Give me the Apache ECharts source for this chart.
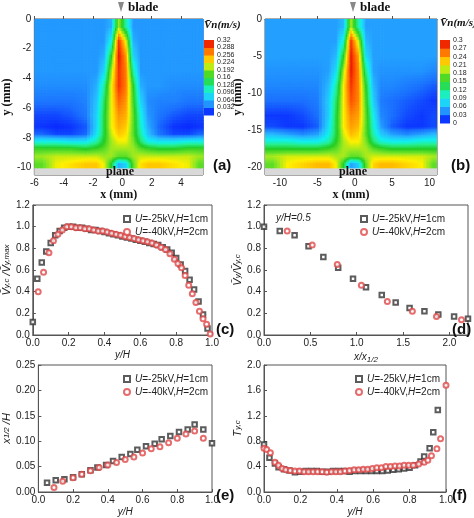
<!DOCTYPE html>
<html><head><meta charset="utf-8">
<script src="https://cdn.jsdelivr.net/npm/echarts@6/dist/echarts.min.js"></script>
<style>html,body{margin:0;background:#fff}#c{width:474px;height:518px}</style>
</head><body><div id="c"></div>
<script>
// contour fields, coarse cells
const aXEdges = [-6,-5,-4,-3,-2,-1.5,-1,-0.5,0,0.5,1,1.5,2,3,4,5,5.5]
const aYEdges = [0,-1,-2,-3,-4,-5,-6,-7,-7.5,-8,-8.5,-9,-9.5,-10]
const bXEdges = [-12,-10,-8,-6,-4,-3,-2,-1,0,1,2,3,4,6,8,10,11]
const bYEdges = [0,-2,-4,-6,-8,-10,-12,-14,-15,-16,-17,-18,-19,-20]
const aField = [
  [.05,.05,.05,.05,.05,.05,.06,.20,.12,.05,.05,.05,.05,.05,.05,.05],
  [.05,.05,.05,.05,.05,.05,.10,.30,.22,.06,.05,.05,.05,.05,.05,.05],
  [.05,.05,.05,.05,.05,.06,.16,.31,.26,.08,.05,.05,.05,.05,.05,.05],
  [.05,.05,.05,.05,.05,.08,.20,.30,.27,.12,.05,.05,.05,.05,.05,.05],
  [.045,.045,.045,.045,.06,.12,.22,.30,.27,.16,.06,.05,.05,.045,.045,.045],
  [.035,.035,.035,.04,.07,.14,.22,.28,.26,.17,.08,.045,.04,.04,.035,.035],
  [.02,.02,.025,.035,.08,.15,.22,.26,.25,.18,.10,.05,.035,.025,.02,.02],
  [.015,.012,.015,.025,.08,.15,.22,.25,.24,.18,.11,.06,.03,.015,.012,.015],
  [.03,.02,.02,.03,.09,.15,.21,.24,.23,.18,.12,.07,.035,.02,.02,.03],
  [.10,.10,.09,.09,.12,.16,.20,.22,.22,.19,.14,.10,.09,.09,.10,.10],
  [.17,.17,.17,.16,.17,.18,.20,.20,.20,.20,.18,.17,.16,.16,.17,.17],
  [.20,.21,.21,.21,.21,.20,.20,.18,.18,.20,.21,.21,.21,.21,.21,.20],
  [.18,.22,.23,.24,.24,.22,.16,.06,.08,.18,.23,.24,.24,.23,.22,.18]
]
const bField = [
  [.05,.05,.05,.05,.05,.05,.06,.19,.11,.05,.05,.05,.05,.05,.05,.05],
  [.05,.05,.05,.05,.05,.05,.10,.28,.20,.06,.05,.05,.05,.05,.05,.05],
  [.05,.05,.05,.05,.05,.06,.15,.29,.24,.08,.05,.05,.05,.05,.05,.05],
  [.045,.045,.045,.045,.05,.08,.19,.29,.25,.12,.05,.045,.045,.045,.045,.04],
  [.04,.04,.04,.04,.06,.11,.21,.28,.25,.15,.06,.04,.04,.035,.03,.025],
  [.03,.03,.03,.035,.07,.13,.21,.27,.25,.16,.07,.035,.03,.025,.02,.015],
  [.015,.015,.02,.03,.07,.14,.21,.25,.24,.17,.09,.04,.03,.02,.015,.02],
  [.02,.015,.015,.025,.08,.14,.21,.24,.23,.17,.10,.05,.025,.015,.015,.02],
  [.06,.05,.04,.05,.09,.14,.20,.23,.22,.17,.11,.07,.05,.04,.05,.06],
  [.10,.10,.09,.09,.11,.15,.19,.21,.21,.18,.13,.10,.09,.09,.10,.10],
  [.15,.15,.15,.15,.16,.17,.19,.19,.19,.19,.17,.16,.15,.15,.15,.15],
  [.19,.20,.20,.20,.20,.19,.19,.17,.17,.19,.20,.20,.20,.20,.20,.19],
  [.17,.21,.22,.23,.23,.21,.15,.05,.07,.17,.22,.23,.23,.22,.21,.17]
]
const aLevels = [0,0.032,0.064,0.096,0.128,0.16,0.192,0.224,0.256,0.288,0.32]
const bLevels = [0,0.03,0.06,0.09,0.12,0.15,0.18,0.21,0.24,0.27,0.3]
const bandColors = ['#0000ff','#1a70ff','#28b8ff','#10f0f0','#28ee8c','#22cc22','#7ee628','#fff000','#ffa000','#ff5000','#e00000']

// (c) centreline velocity
const c25 = [[0,.12],[.025,.52],[.05,.67],[.075,.77],[.1,.85],[.125,.92],[.15,.96],[.175,.99],[.2,1],[.225,1],[.25,.99],[.275,.99],[.3,.98],[.325,.97],[.35,.97],[.375,.96],[.4,.95],[.425,.94],[.45,.93],[.475,.92],[.5,.91],[.525,.9],[.55,.89],[.575,.88],[.6,.87],[.625,.86],[.65,.85],[.675,.84],[.7,.83],[.725,.81],[.75,.79],[.775,.76],[.8,.71],[.825,.65],[.85,.59],[.875,.51],[.9,.42],[.925,.31],[.95,.19],[.975,.06]]
const c40 = [[.03,.40],[.06,.58],[.09,.76],[.115,.87],[.14,.93],[.165,.97],[.19,1],[.215,1],[.24,.99],[.265,.99],[.29,.98],[.315,.98],[.34,.97],[.365,.96],[.39,.96],[.415,.95],[.44,.94],[.465,.93],[.49,.92],[.515,.91],[.54,.9],[.565,.89],[.59,.88],[.615,.87],[.64,.86],[.665,.85],[.69,.83],[.715,.81],[.74,.79],[.765,.75],[.79,.7],[.81,.66],[.83,.62],[.85,.55],[.87,.46],[.89,.38],[.91,.3],[.93,.22],[.95,.15],[.97,.1],[.99,.01]]
// (d) transverse profile
const d25 = [[0,1],[.17,.96],[.33,.92],[.48,.82],[.64,.72],[.8,.62],[.96,.52],[1.1,.44],[1.27,.37],[1.42,.3],[1.57,.25],[1.73,.22],[1.88,.19],[2.05,.17],[2.2,.15]]
const d40 = [[.25,.96],[.52,.83],[.79,.65],[1.05,.46],[1.33,.31],[1.6,.22],[1.86,.17],[2.13,.14]]
// (e) half width
const e25 = [[.05,.018],[.1,.023],[.15,.025],[.2,.029],[.25,.035],[.3,.043],[.34,.048],[.39,.053],[.43,.061],[.48,.069],[.53,.075],[.57,.083],[.62,.09],[.67,.095],[.71,.104],[.76,.11],[.81,.118],[.86,.123],[.9,.133],[.95,.123],[1,.096]]
const e40 = [[.09,.009],[.14,.021],[.2,.028],[.25,.035],[.3,.042],[.35,.048],[.4,.053],[.45,.058],[.5,.064],[.55,.069],[.6,.077],[.65,.085],[.7,.089],[.75,.097],[.8,.106],[.85,.114],[.9,.12],[.95,.106]]
// (f) turbulence
const f25 = [[0,.75],[.03,.54],[.06,.45],[.08,.39],[.11,.36],[.14,.34],[.17,.31],[.2,.32],[.23,.33],[.26,.33],[.29,.33],[.32,.32],[.35,.32],[.38,.33],[.41,.33],[.44,.33],[.47,.32],[.5,.33],[.53,.33],[.56,.33],[.59,.33],[.62,.33],[.65,.33],[.68,.34],[.71,.35],[.74,.36],[.77,.37],[.8,.38],[.83,.42],[.86,.48],[.88,.56],[.91,.69],[.93,.94],[.955,1.29]]
const f40 = [[0,.69],[.015,.67],[.035,.62],[.06,.47],[.08,.42],[.1,.37],[.12,.35],[.145,.34],[.17,.33],[.195,.33],[.22,.32],[.245,.32],[.27,.32],[.295,.32],[.32,.32],[.345,.31],[.37,.32],[.395,.32],[.42,.32],[.445,.33],[.47,.34],[.495,.35],[.52,.35],[.545,.36],[.57,.36],[.595,.37],[.62,.38],[.645,.38],[.67,.4],[.695,.4],[.72,.41],[.745,.41],[.77,.42],[.795,.42],[.82,.42],[.85,.44],[.88,.47],[.9,.5],[.92,.57],[.95,.68],[.97,.84],[1,1.68]]

const name25 = 'U=-25kV,H=1cm'
const name40 = 'U=-40kV,H=2cm'

function cells(xe, ye, field) {
  const out = []
  field.forEach((row, j) => row.forEach((v, i) => out.push([xe[i], xe[i + 1], ye[j], ye[j + 1], v, i, j])))
  return out
}
function bands(levels) {
  const out = []
  for (let i = 0; i < levels.length - 1; i++) out.push([0, 1, levels[i], levels[i + 1], (levels[i] + levels[i + 1]) / 2])
  return out
}
const colorOf = (v, vmax) => echarts.color.lerp(Math.max(0, Math.min(1, v / vmax)), bandColors)

// bilinear sample between cell centres
function sampler(xe, ye, F) {
  const cx = xe.slice(0, -1).map((x, i) => (x + xe[i + 1]) / 2)
  const cy = ye.slice(0, -1).map((y, j) => (y + ye[j + 1]) / 2)
  const find = (arr, v, desc) => {
    const n = arr.length
    for (let k = 0; k < n - 1; k++) {
      const a = arr[k], b = arr[k + 1]
      if (desc ? (v <= a && v >= b) : (v >= a && v <= b)) return [k, (v - a) / (b - a)]
    }
    return (desc ? v > arr[0] : v < arr[0]) ? [0, 0] : [n - 2, 1]
  }
  return (x, y) => {
    const [i, tx] = find(cx, x, false)
    const [j, ty] = find(cy, y, true)
    const v00 = F[j][i], v01 = F[j][i + 1], v10 = F[j + 1][i], v11 = F[j + 1][i + 1]
    return (v00 * (1 - tx) + v01 * tx) * (1 - ty) + (v10 * (1 - tx) + v11 * tx) * ty
  }
}
function fieldItem(xe, ye, F, vmax) {
  const s = sampler(xe, ye, F)
  const N = 5
  return (params, api) => {
    const x0 = api.value(0), x1 = api.value(1), y0 = api.value(2), y1 = api.value(3)
    const children = []
    for (let a = 0; a < N; a++) for (let b = 0; b < N; b++) {
      const xa = x0 + (x1 - x0) * a / N, xb = x0 + (x1 - x0) * (a + 1) / N
      const ya = y0 + (y1 - y0) * b / N, yb = y0 + (y1 - y0) * (b + 1) / N
      const p0 = api.coord([xa, ya]), p1 = api.coord([xb, yb])
      children.push({ type: 'rect', shape: { x: Math.min(p0[0], p1[0]), y: Math.min(p0[1], p1[1]), width: Math.abs(p1[0] - p0[0]) + 0.7, height: Math.abs(p1[1] - p0[1]) + 0.7 },
        style: { fill: colorOf(s((xa + xb) / 2, (ya + yb) / 2), vmax) } })
    }
    return { type: 'group', children }
  }
}
const bandItem = vmax => (params, api) => {
  const p0 = api.coord([api.value(0), api.value(2)])
  const p1 = api.coord([api.value(1), api.value(3)])
  return { type: 'rect', shape: { x: p0[0], y: p1[1], width: p1[0] - p0[0], height: p0[1] - p1[1] + 0.5 },
    style: { fill: colorOf(api.value(4), vmax) } }
}

const txt = { color: '#222', fontSize: 10, fontFamily: 'Liberation Sans' }
const serifB = { fontFamily: 'Liberation Serif', fontWeight: 'bold', fontSize: 12, color: '#111' }
const box = { show: true, borderColor: '#555', borderWidth: 1 }

const grids = [
  { left: 31, top: 19, width: 172, height: 156, ...box },
  { left: 265, top: 19, width: 172, height: 156, ...box },
  { left: 204, top: 40, width: 10, height: 75 },
  { left: 440, top: 40, width: 10, height: 83 },
  { left: 27, top: 205, width: 185, height: 130, ...box },
  { left: 264, top: 205, width: 204, height: 130, ...box },
  { left: 27, top: 365, width: 185, height: 133, ...box },
  { left: 264, top: 365, width: 182, height: 133, ...box }
]

function valAxis(gi, o) {
  return Object.assign({
    type: 'value', gridIndex: gi, splitLine: { show: false },
    axisLine: { show: true, lineStyle: { color: '#555' } },
    axisTick: { show: true, inside: true, length: 3, lineStyle: { color: '#555' } },
    axisLabel: { ...txt, margin: 3 },
    nameTextStyle: { ...txt }
  }, o)
}
const hidden = (gi, o) => Object.assign({ type: 'value', gridIndex: gi, show: false }, o)
const fix1 = v => v.toFixed(1)

const xAxes = [
  valAxis(0, { min: -6, max: 5.5, interval: 2, name: 'x (mm)', nameLocation: 'middle', nameGap: 13, nameTextStyle: serifB, axisLabel: { ...txt, margin: 3, showMaxLabel: false } }),
  valAxis(1, { min: -12, max: 11, axisTick: { show: true, inside: true, length: 3, customValues: [-10, -5, 0, 5, 10] }, axisLabel: { ...txt, margin: 3, customValues: [-10, -5, 0, 5, 10] }, name: 'x (mm)', nameLocation: 'middle', nameGap: 13, nameTextStyle: serifB }),
  hidden(2, { min: 0, max: 1 }),
  hidden(3, { min: 0, max: 1 }),
  valAxis(4, { min: 0, max: 1, interval: 0.2, name: 'y/H', nameLocation: 'middle', nameGap: 15, nameTextStyle: { ...txt, fontStyle: 'italic' }, axisLabel: { ...txt, margin: 3, formatter: fix1 } }),
  valAxis(5, { min: 0, max: 2.2, interval: 0.5, name: '{i|x/x}{s|1/2}', nameLocation: 'middle', nameGap: 15, nameTextStyle: { ...txt, rich: { i: { ...txt, fontStyle: 'italic' }, s: { ...txt, fontSize: 8, fontStyle: 'italic', padding: [6, 0, 0, 0] } } }, axisLabel: { ...txt, margin: 3, formatter: fix1, showMaxLabel: false } }),
  valAxis(6, { min: 0, max: 1, interval: 0.2, name: 'y/H', nameLocation: 'middle', nameGap: 15, nameTextStyle: { ...txt, fontStyle: 'italic' }, axisLabel: { ...txt, margin: 3, formatter: fix1 } }),
  valAxis(7, { min: 0, max: 1, interval: 0.2, name: 'y/H', nameLocation: 'middle', nameGap: 15, nameTextStyle: { ...txt, fontStyle: 'italic' }, axisLabel: { ...txt, margin: 3, formatter: fix1 } })
]
const richY = { i: { ...txt, fontSize: 11, fontStyle: 'italic' }, s: { ...txt, fontSize: 8, fontStyle: 'italic', padding: [0, 0, 0, 0] } }
const yAxes = [
  valAxis(0, { min: -10.5, max: 0, axisTick: { show: true, inside: true, length: 3, customValues: [0, -2, -4, -6, -8, -10] }, axisLabel: { ...txt, margin: 3, customValues: [0, -2, -4, -6, -8, -10] }, name: 'y (mm)', nameLocation: 'middle', nameGap: 17, nameTextStyle: serifB }),
  valAxis(1, { min: -21, max: 0, axisTick: { show: true, inside: true, length: 3, customValues: [0, -5, -10, -15, -20] }, axisLabel: { ...txt, margin: 3, customValues: [0, -5, -10, -15, -20] }, name: 'y (mm)', nameLocation: 'middle', nameGap: 17, nameTextStyle: serifB }),
  valAxis(2, { min: 0, max: 0.32, position: 'right', axisLine: { show: false }, axisTick: { show: false }, axisLabel: { ...txt, fontSize: 7, margin: 3, showMaxLabel: true, customValues: aLevels, formatter: v => String(+v.toFixed(3)) } }),
  valAxis(3, { min: 0, max: 0.3, position: 'right', axisLine: { show: false }, axisTick: { show: false }, axisLabel: { ...txt, fontSize: 7, margin: 3, showMaxLabel: true, customValues: bLevels, formatter: v => String(+v.toFixed(2)) } }),
  valAxis(4, { min: 0, max: 1.2, interval: 0.2, name: '{i|V̄}{s|y,c}{i| /V̄}{s|y,max}', nameLocation: 'middle', nameGap: 18, nameTextStyle: { rich: richY }, axisLabel: { ...txt, margin: 3, formatter: fix1 } }),
  valAxis(5, { min: 0, max: 1.2, interval: 0.2, name: '{i|V̄}{s|y}{i|/V̄}{s|y,c}', nameLocation: 'middle', nameGap: 18, nameTextStyle: { rich: richY }, axisLabel: { ...txt, margin: 3, formatter: fix1 } }),
  valAxis(6, { min: 0, max: 0.25, interval: 0.05, name: '{i|x}{s|1/2}{i| /H}', nameLocation: 'middle', nameGap: 24, nameTextStyle: { rich: richY }, axisLabel: { ...txt, margin: 3, formatter: v => v.toFixed(2) } }),
  valAxis(7, { min: 0, max: 2, interval: 0.4, name: '{i|T}{s|y,c}', nameLocation: 'middle', nameGap: 18, nameTextStyle: { rich: richY }, axisLabel: { ...txt, margin: 3, formatter: fix1 } })
]

const sq = (gi, data) => ({ name: name25, type: 'scatter', xAxisIndex: gi, yAxisIndex: gi, data, symbol: 'emptyRect', symbolSize: 4.5, itemStyle: { color: '#333', borderWidth: 1 } })
const ci = (gi, data) => ({ name: name40, type: 'scatter', xAxisIndex: gi, yAxisIndex: gi, data, symbol: 'emptyCircle', symbolSize: 5, itemStyle: { color: '#e04848', borderWidth: 1 } })

const series = [
  { type: 'custom', xAxisIndex: 0, yAxisIndex: 0, renderItem: fieldItem(aXEdges, aYEdges, aField, 0.32), data: cells(aXEdges, aYEdges, aField), encode: { x: [0, 1], y: [2, 3] }, clip: true,
    markArea: { silent: true, itemStyle: { color: '#d9d9d9' }, data: [[{ yAxis: -10.5 }, { yAxis: -10 }]] } },
  { type: 'custom', xAxisIndex: 1, yAxisIndex: 1, renderItem: fieldItem(bXEdges, bYEdges, bField, 0.3), data: cells(bXEdges, bYEdges, bField), encode: { x: [0, 1], y: [2, 3] }, clip: true,
    markArea: { silent: true, itemStyle: { color: '#d9d9d9' }, data: [[{ yAxis: -21 }, { yAxis: -20 }]] } },
  { type: 'custom', xAxisIndex: 2, yAxisIndex: 2, renderItem: bandItem(0.32), data: bands(aLevels), encode: { x: [0, 1], y: [2, 3] } },
  { type: 'custom', xAxisIndex: 3, yAxisIndex: 3, renderItem: bandItem(0.3), data: bands(bLevels), encode: { x: [0, 1], y: [2, 3] } },
  sq(4, c25), ci(4, c40), sq(5, d25), ci(5, d40), sq(6, e25), ci(6, e40), sq(7, f25), ci(7, f40)
]

const legRich = { i: { ...txt, fontStyle: 'italic', fontSize: 10 }, n: { ...txt, fontSize: 10 } }
const legFmt = n => n === name25 ? '{i|U}{n|=-25kV,}{i|H}{n|=1cm}' : '{i|U}{n|=-40kV,}{i|H}{n|=2cm}'
const legend = [[118, 209], [355, 209], [118, 369], [350, 369]].map(([l, t]) => ({
  left: l, top: t, orient: 'vertical', itemGap: 3, itemWidth: 6, itemHeight: 6,
  data: [name25, name40], formatter: legFmt, textStyle: { rich: legRich }, selectedMode: false
}))

const label = (x, y, t) => ({ type: 'text', left: x, top: y, z: 100, style: { text: t, font: 'bold 15px Liberation Sans', fill: '#111' } })
const graphic = [
  { type: 'polygon', shape: { points: [[118, 2], [124, 2], [121, 12]] }, style: { fill: '#888' } },
  { type: 'text', left: 128, top: 1, style: { text: 'blade', font: 'bold 13px Liberation Serif', fill: '#111' } },
  { type: 'polygon', shape: { points: [[350, 2], [356, 2], [353, 12]] }, style: { fill: '#888' } },
  { type: 'text', left: 360, top: 1, style: { text: 'blade', font: 'bold 13px Liberation Serif', fill: '#111' } },
  { type: 'text', left: 106, top: 166, z: 100, style: { text: 'plane', font: 'bold 12px Liberation Serif', fill: '#111' } },
  { type: 'text', left: 339, top: 166, z: 100, style: { text: 'plane', font: 'bold 12px Liberation Serif', fill: '#111' } },
  { type: 'text', left: 204, top: 20, style: { text: 'V̄n(m/s)', font: 'bold italic 11px Liberation Serif', fill: '#111' } },
  { type: 'text', left: 440, top: 18, style: { text: 'V̄n(m/s)', font: 'bold italic 11px Liberation Serif', fill: '#111' } },
  { type: 'text', left: 276, top: 213, style: { text: 'y/H=0.5', font: 'italic 10px Liberation Sans', fill: '#222' } },
  label(213, 158, '(a)'), label(451, 158, '(b)'),
  label(216, 322, '(c)'), label(452, 322, '(d)'),
  label(216, 488, '(e)'), label(452, 488, '(f)')
]

const chart = echarts.init(document.getElementById('c'), null, { renderer: 'canvas' })
chart.setOption({ animation: false, grid: grids, xAxis: xAxes, yAxis: yAxes, series, legend, graphic })
</script></body></html>
